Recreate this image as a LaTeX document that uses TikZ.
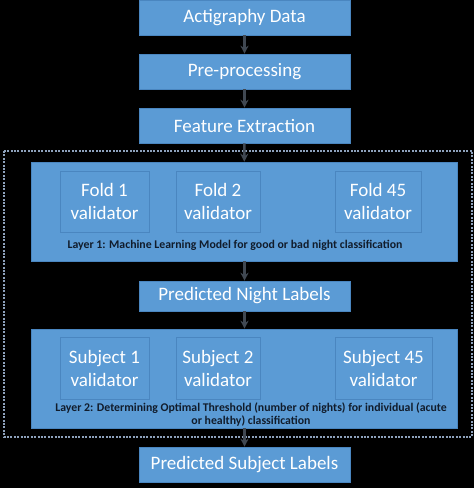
\documentclass[tikz,border=0pt]{standalone}
\usepackage{fontspec}
\setmainfont{Carlito}
\usetikzlibrary{arrows.meta}

\definecolor{boxblue}{HTML}{5B9BD5}
\definecolor{edgeblue}{HTML}{4A86C0}
\definecolor{arrowgray}{HTML}{404852}
\definecolor{dotgray}{HTML}{8EA2BC}
\definecolor{labelnavy}{HTML}{111C2B}

\tikzset{
    stagebox/.style={fill=boxblue, draw=edgeblue, line width=0.6pt, text=white,
        minimum width=211pt, inner sep=0pt, font=\fontsize{19}{23}\selectfont},
    layerbox/.style={fill=boxblue, draw=edgeblue, line width=0.6pt,
        minimum width=426pt, minimum height=99pt, inner sep=0pt},
    validbox/.style={fill=boxblue, draw=edgeblue, line width=0.8pt, text=white,
        align=center, inner sep=0pt, font=\fontsize{19}{23}\selectfont},
    layerlabel/.style={text=labelnavy, align=center, inner sep=0pt,
        font=\bfseries\fontsize{11.8}{12.7}\selectfont},
    flow/.style={draw=arrowgray, line width=2.4pt, -{Stealth[length=8pt,width=8pt]}}
}

\begin{document}
\begin{tikzpicture}[x=1pt, y=-1pt]
                        % background
                        \fill[black] (0,0) rectangle (474,488);
                        \useasboundingbox (0,0) rectangle (474,488);

                        % dotted frame round both layers
                        \draw[dotgray, line width=2.4pt, dash pattern=on 2pt off 1.4pt] (4,151) rectangle (472,437);

                        % first three stages
                        \node[stagebox, minimum height=35pt] (actig) at (244.5, 17.5) {Actigraphy Data};
                        \node[stagebox, minimum height=35pt] (prep) at (244.5, 71.5) {Pre-processing};
                        \node[stagebox, minimum height=35pt] (feat) at (244.5, 125.5) {Feature Extraction};

                        % Layer 1
                        \node[layerbox] (layer1) at (244, 211.5) {};
                        \node[validbox, minimum width=89pt, minimum height=61pt] (fold1) at (104.5, 201.5) {Fold 1\\validator};
                        \node[validbox, minimum width=84pt, minimum height=61pt] (fold2) at (218, 201.5) {Fold 2\\validator};
                        \node[validbox, minimum width=86pt, minimum height=61pt] (fold45) at (378, 201.5) {Fold 45\\validator};
                        \node[layerlabel] (label1) at (235, 245) {Layer 1: Machine Learning Model for good or bad night classification};

                        \node[stagebox, minimum height=30pt] (night) at (244.5, 296) {Predicted Night Labels};

                        % Layer 2
                        \node[layerbox] (layer2) at (244, 378.5) {};
                        \node[validbox, minimum width=89pt, minimum height=62pt] (subj1) at (104.5, 368) {Subject 1\\validator};
                        \node[validbox, minimum width=84pt, minimum height=62pt] (subj2) at (218, 368) {Subject 2\\validator};
                        \node[validbox, minimum width=97pt, minimum height=62pt] (subj45) at (383.5, 368) {Subject 45\\validator};
                        \node[layerlabel] (label2) at (251, 414.5) {Layer 2: Determining Optimal Threshold (number of nights) for individual (acute\\or healthy) classification};

                        \node[stagebox, minimum height=35pt] (subjlab) at (244.5, 464.5) {Predicted Subject Labels};

                        % arrows
                        \draw[flow] (actig) -- (prep);
                        \draw[flow] (prep) -- (feat);
                        \draw[flow] (feat) -- (layer1);
                        \draw[flow] (layer1.south -| night.north) -- (night);
                        \draw[flow] (night) -- (layer2.north -| night.south);
                        \draw[flow] (layer2.south -| subjlab.north) -- (subjlab);
\end{tikzpicture}
\end{document}
